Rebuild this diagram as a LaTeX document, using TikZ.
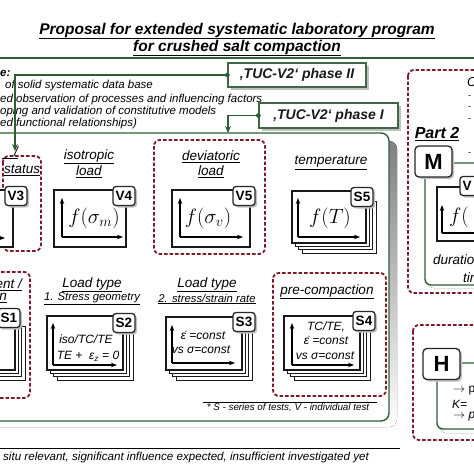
\documentclass[tikz,border=0pt]{standalone}
\usepackage[no-math]{fontspec}
\setmainfont{Liberation Sans}
\usetikzlibrary{arrows.meta,shadows}
\definecolor{dkgreen}{RGB}{46,94,56}
\definecolor{dkred}{RGB}{125,25,40}
\definecolor{shade}{RGB}{192,192,192}
\newcommand\fsz[1]{\fontsize{#1}{#1}\selectfont}
\newcommand\stk[4]{%
  \foreach \k in {3,2,1} {\draw[gbox] (#1+3.4*\k,#2+3.4*\k) rectangle (#3+3.4*\k,#4+3.4*\k);}
  \draw[gbox] (#1,#2) rectangle (#3,#4);}
\newcommand\axes[4]{% ox oy topy rightx
  \draw[axis] (#1,#2) -- (#1,#3);
  \draw[axis] (#1,#2) -- (#4,#2);}
\tikzset{
  txt/.style={inner sep=0pt, font=\fsz{11.5}\itshape},
  hdr/.style={inner sep=0pt, font=\fsz{13.5}\itshape},
  subhdr/.style={inner sep=0pt, font=\fsz{11.3}\itshape},
  intxt/.style={inner sep=0pt, font=\fsz{12}\itshape},
  lbl/.style={draw=black!85, fill=white, line width=1.3pt, rounded corners=3pt,
    minimum width=22pt, minimum height=19pt, inner sep=0pt, font=\fsz{13.5}\bfseries,
    drop shadow={shadow xshift=2pt, shadow yshift=-2pt, fill=shade, opacity=1}},
  gbox/.style={draw=black!90, fill=white, line width=1.3pt},
  axis/.style={line width=1.3pt, -{Stealth[length=6pt,width=4.5pt]}},
  dbox/.style={draw=dkred, line width=1.8pt, dash pattern=on 3.5pt off 2pt, rounded corners=6pt},
  gline/.style={draw=dkgreen, line width=1.4pt},
  garrow/.style={gline, -{Stealth[length=7pt,width=6pt]}},
  phase/.style={draw=dkgreen!80!gray, fill=white, line width=1.3pt, inner sep=0pt,
    text=black!90, font=\fsz{14}\bfseries\itshape,
    drop shadow={shadow xshift=3pt, shadow yshift=-3pt, fill=shade, opacity=1}},
  fmath/.style={inner sep=0pt, font=\fsz{21}},
  smalltxt/.style={inner sep=0pt, anchor=west, font=\fsz{12}},
}
\begin{document}
\begin{tikzpicture}[x=1pt,y=-1pt]
\useasboundingbox (0,0) rectangle (474,474);
\fill[white] (0,0) rectangle (474,474);
\clip (0,0) rectangle (474,474);

% title
\node[inner sep=0pt, font=\fsz{15.5}\bfseries\itshape] (t1) at (237,31) {\underline{Proposal for extended systematic laboratory program}};
\node[inner sep=0pt, font=\fsz{15.5}\bfseries\itshape] (t2) at (237,48) {\underline{for crushed salt compaction}};
\draw[gline] (0,58) -- (474,58);

% left text
\node[txt, anchor=west, font=\fsz{11.5}\bfseries\itshape] (o0) at (0,73) {e:};
\node[txt, anchor=west] (o1) at (5,86) {of solid systematic data base};
\node[txt, anchor=west] (o2) at (0,100) {ed observation of processes and influencing factors};
\node[txt, anchor=west] (o3) at (0,111.5) {oping and validation of constitutive models};
\node[txt, anchor=west] (o4) at (0,124) {ed functional relationships)};

% big green box
\fill[shade, rounded corners=8pt] (-13,141) rectangle (397,427);
\draw[gline, fill=white, rounded corners=8pt] (-20,133) rectangle (389,421);

% phase boxes
\node[phase, minimum width=138pt, minimum height=24pt] (p2) at (297,75) {‚TUC-V2‘ phase II};
\node[phase, minimum width=139pt, minimum height=25pt] (p1) at (328.5,115.5) {‚TUC-V2‘ phase I};
\coordinate (a2) at (15,151);
\coordinate (a1) at (228,133);
\draw[garrow] (p2.west) -| (a2);
\draw[garrow] (p1.west) -| (a1);
\fill[dkgreen] (p2.west) circle (2.4);
\fill[dkgreen] (p1.west) circle (2.4);

% dashed boxes
\draw[dbox] (3,156) rectangle (41,251);
\draw[dbox] (154,140) rectangle (265,254);
\draw[dbox] (-20,272) rectangle (30,398);
\draw[dbox] (273,273) rectangle (386,396);
\draw[dbox] (408,70) rectangle (500,293);
\draw[dbox] (413,325) rectangle (500,440);

% row 1 headers
\node[hdr, anchor=east] (h0a) at (18,153) {\underline{\hspace{12pt}/}};
\node[hdr, anchor=west] (h0b) at (4,170) {\underline{status}};
\node[hdr] (h1a) at (89,157) {\underline{isotropic}};
\node[hdr] (h1b) at (89,172) {\underline{load}};
\node[hdr] (h2a) at (211,157) {\underline{deviatoric}};
\node[hdr] (h2b) at (211,172) {\underline{load}};
\node[hdr] (h3) at (331,163) {\underline{temperature}};

% row 1 graphs
\draw[gbox] (-60,190) rectangle (13,247);
\draw[axis] (-50,238) -- (5,238);
\draw[gbox] (54,190) rectangle (126,247);
\axes{62}{237}{198}{123}
\node[fmath] (f4) at (94,218) {$f(\sigma_m)$};
\draw[gbox] (172,190) rectangle (250,247);
\axes{180}{237}{198}{243}
\node[fmath] (f5) at (208,218) {$f(\sigma_v)$};
\stk{292}{191}{366}{243}
\axes{298}{237}{198}{360}
\node[fmath] (f6) at (330,218) {$f(T)$};
\node[lbl] (V3) at (16,196) {V3};
\node[lbl] (V4) at (124,196) {V4};
\node[lbl] (V5) at (244,196) {V5};
\node[lbl] (S5) at (362,197) {S5};

% row 2 headers
\node[hdr, anchor=east] (g0a) at (22,285) {\underline{ent /}};
\node[hdr, anchor=east] (g0b) at (7,298) {\underline{n}};
\node[hdr] (g1a) at (92,285) {\underline{Load type}};
\node[subhdr] (g1b) at (92,299) {\underline{1. Stress geometry}};
\node[hdr] (g2a) at (207,285) {\underline{Load type}};
\node[subhdr] (g2b) at (207,299) {\underline{2. stress/strain rate}};
\node[hdr] (g3) at (327,292) {\underline{pre-compaction}};

% row 2 graphs
\stk{-60}{316}{15}{370}
\stk{47}{316}{123}{370}
\axes{53}{365}{323}{117}
\node[intxt] (i2a) at (86,339) {iso/TC/TE};
\node[intxt] (i2b) at (88,356) {TE +\ \ ε\textsubscript{z} = 0};
\stk{166}{317}{242}{370}
\axes{172}{363}{325}{235}
\node[intxt] (i3a) at (203,335) {\.{ε} =const};
\node[intxt] (i3b) at (201,350) {vs σ=const};
\stk{284}{316}{360}{370}
\axes{292}{365}{323}{354}
\node[intxt] (i4a) at (326,327) {TC/TE,};
\node[intxt] (i4b) at (326,340) {\.{ε} =const};
\node[intxt] (i4c) at (325,356) {vs σ=const};
\node[lbl] (S1) at (9,318) {S1};
\node[lbl] (S2) at (124,323) {S2};
\node[lbl] (S3) at (244,322) {S3};
\node[lbl] (S4) at (364,321) {S4};

% footnotes
\draw[line width=0.8pt] (203,402) -- (377,402);
\node[inner sep=0pt, font=\fsz{9.8}\itshape] (fn) at (288,408) {* S - series of tests, V - individual test};
\draw[line width=1pt] (0,448) -- (400,448);
\node[inner sep=0pt, anchor=west, font=\fsz{11.6}\itshape] (fn2) at (3,457) {situ relevant, significant influence expected, insufficient investigated yet};

% part 2
\node[inner sep=0pt, anchor=west, font=\fsz{13}\itshape] (c0) at (467,82) {C};
\foreach \yy in {97,108,120,154} {\node[inner sep=0pt, anchor=west, font=\fsz{9}] at (468,\yy) {-};}
\node[inner sep=0pt, font=\fsz{16}\bfseries\itshape] (pt2) at (437,134) {\underline{Part 2}};
\fill[shade, rounded corners=6pt] (428,166) rectangle (503,288);
\draw[gline, fill=white, rounded corners=6pt] (425,163) rectangle (500,285);
\draw[gbox] (437,187) rectangle (500,241);
\axes{442}{233}{205}{490}
\node[fmath, anchor=west] (f7) at (449,217) {$f($};
\node[lbl] (Vx) at (471,186) {V\phantom{0}};
\node[lbl, minimum width=37pt, minimum height=31pt, rounded corners=4pt, font=\fsz{22}\bfseries] (M) at (433.5,161.5) {M};
\node[hdr, anchor=west] (d1) at (433,260) {duration};
\node[hdr, anchor=west] (d2) at (463,278) {time};

\fill[shade, rounded corners=6pt] (440,366) rectangle (503,433);
\draw[gline, fill=white, rounded corners=6pt] (437,363) rectangle (500,429);
\node[lbl, minimum width=37pt, minimum height=31pt, rounded corners=4pt, font=\fsz{22}\bfseries] (H) at (441.5,364) {H};
\node[smalltxt] (k1) at (453,391) {$\rightarrow$ p};
\node[smalltxt, font=\fsz{12}\itshape] (k2) at (452,404) {K=};
\node[smalltxt, font=\fsz{12}\itshape] (k3) at (453,416.5) {$\rightarrow$ p};
\end{tikzpicture}
\end{document}
